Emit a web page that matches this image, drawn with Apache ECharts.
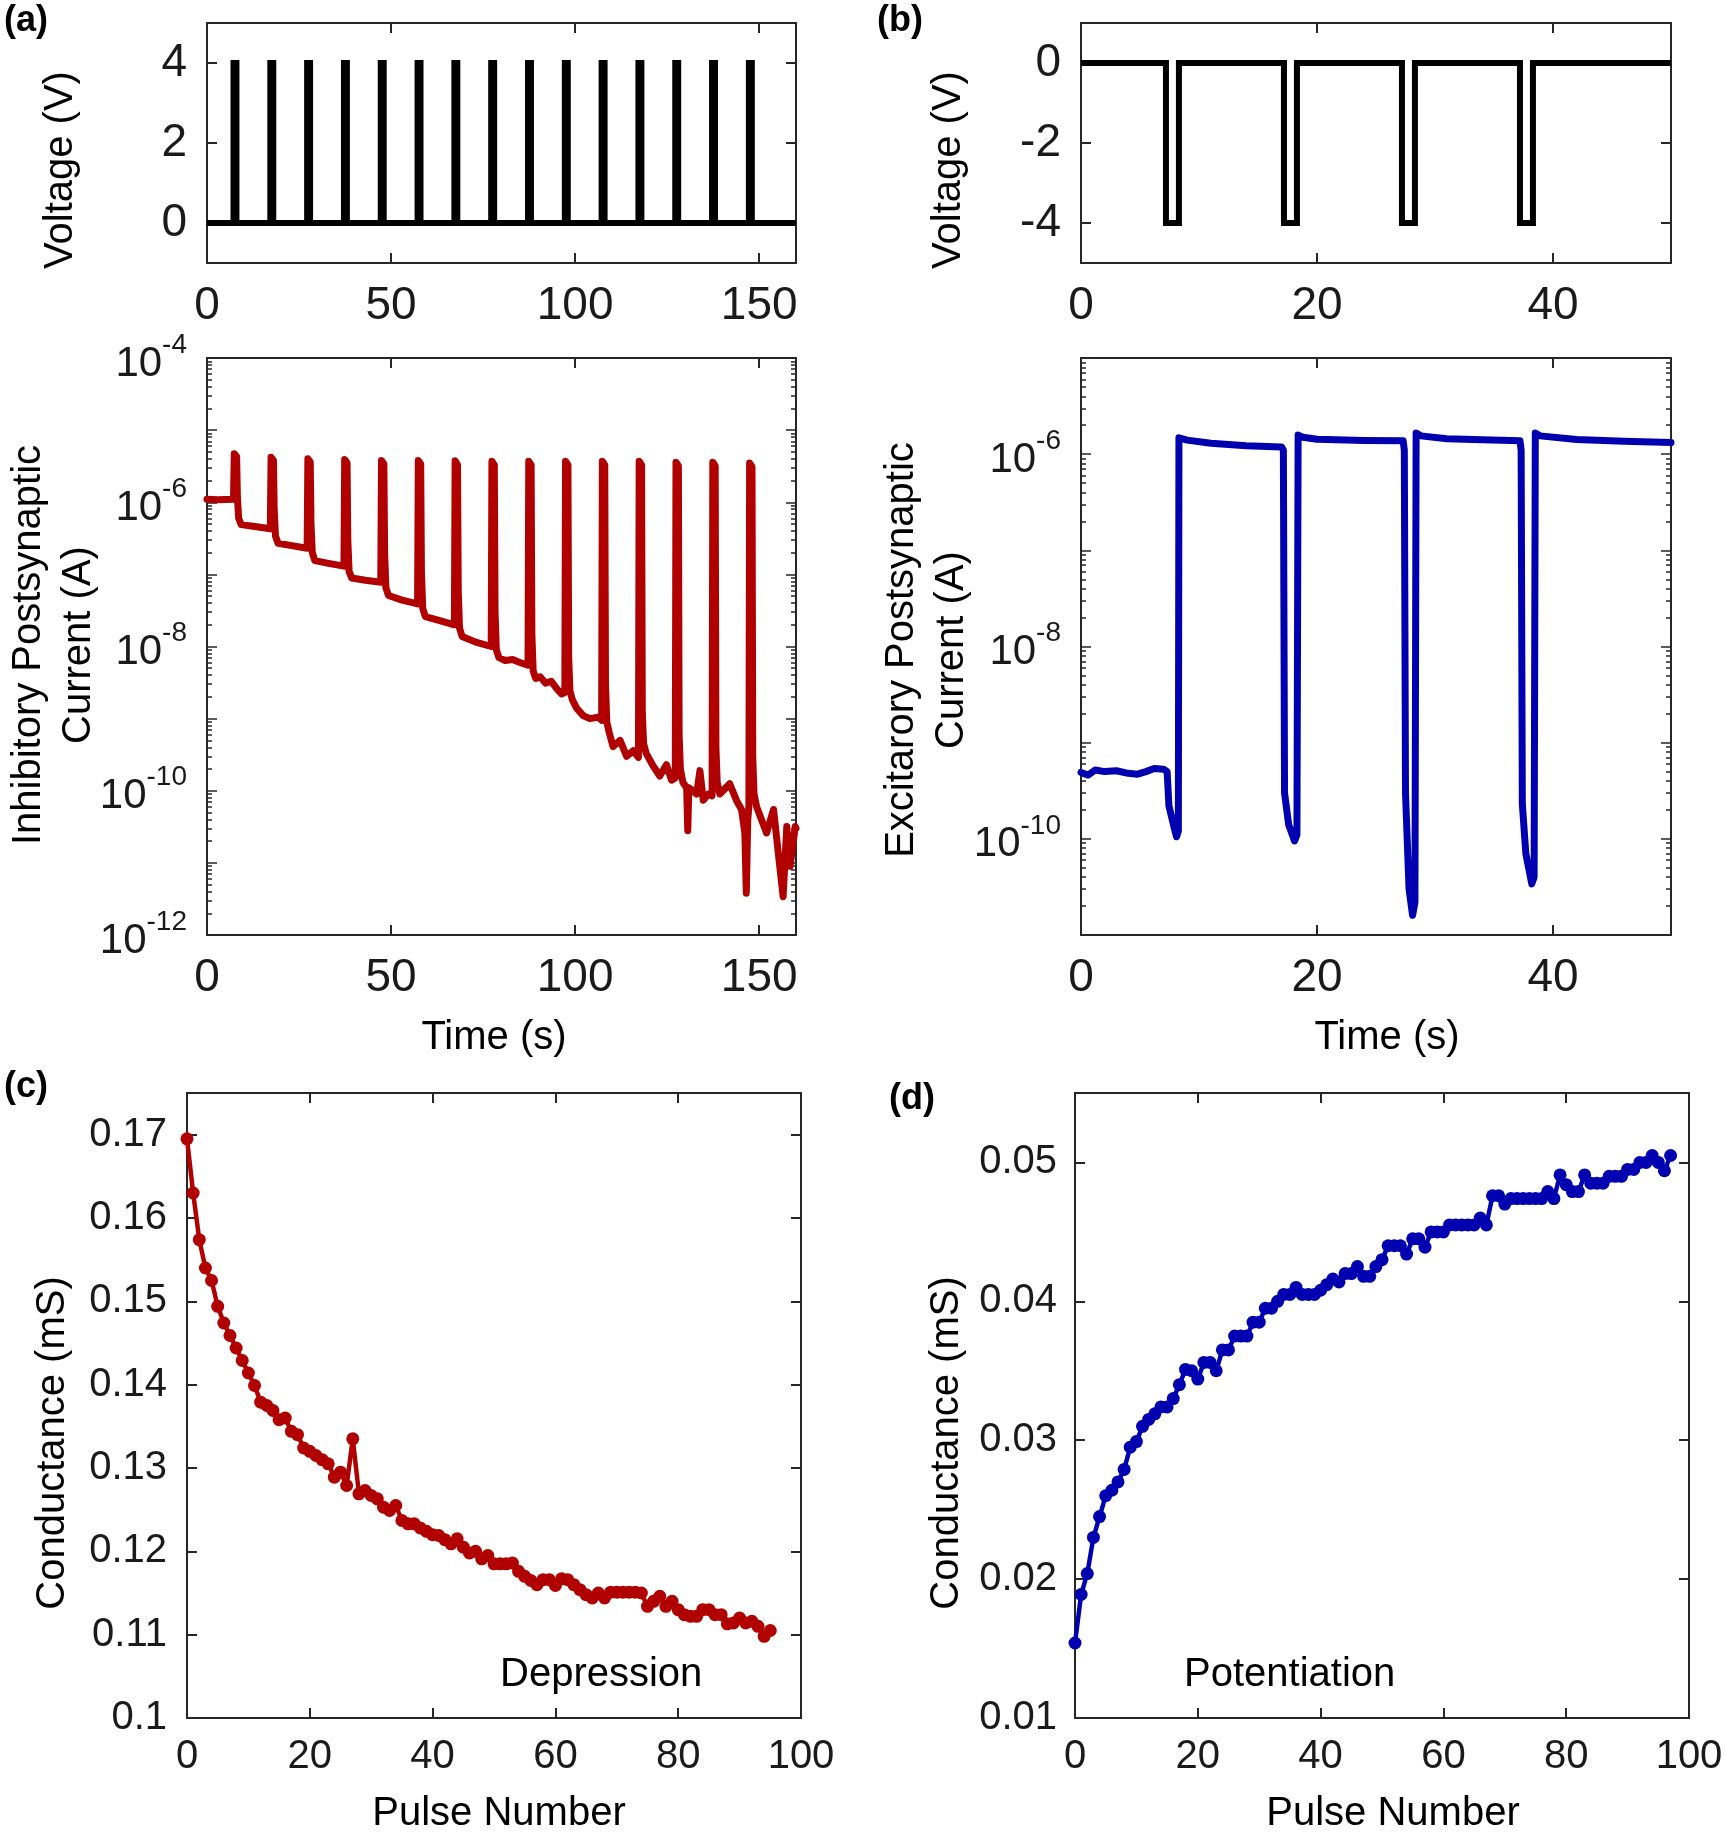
<!DOCTYPE html>
<html>
<head>
<meta charset="utf-8">
<script src="https://cdn.jsdelivr.net/npm/echarts@6.0.0/dist/echarts.min.js"></script>
<style>
  html, body { margin: 0; padding: 0; background: #fff; }
  #chart { width: 1725px; height: 1832px; }
</style>
</head>
<body>
<div id="chart"></div>
<script>
// ---- (a) / (b) voltage pulse trains ----
const posPulseStarts = [7.2, 17.2, 27.2, 37.2, 47.2, 57.2, 67.2, 77.2, 87.2, 97.2, 107.2, 117.2, 127.2, 137.2, 147.2];
const posPulseWidth = 0.8;
const posPulseAmp = 4;
const posTimeEnd = 160;

const negPulseStarts = [7.2, 17.2, 27.2, 37.2];
const negPulseWidth = 1.1;
const negPulseAmp = -4;
const negTimeEnd = 50;

// ---- (a) inhibitory postsynaptic current, [time s, current A] ----
const ipscPoints = [
  [0, 1.1e-6], [3, 1.08e-6], [7.2, 1.1e-6],
  [7.3, 1.1e-6], [7.4, 4.7e-6], [8.05, 4.3e-6], [8.25, 1.2e-6], [8.6, 6.0e-7], [9.3, 4.9e-7], [13, 4.6e-7], [17.2, 4.3e-7],
  [17.3, 4.3e-7], [17.4, 4.2e-6], [18.05, 3.8e-6], [18.25, 8e-7], [18.6, 3.4e-7], [19.3, 2.7e-7], [23, 2.5e-7], [27.2, 2.3e-7],
  [27.3, 2.3e-7], [27.4, 4.0e-6], [28.05, 3.6e-6], [28.25, 5e-7], [28.6, 2.0e-7], [29.3, 1.55e-7], [33, 1.42e-7], [37.2, 1.3e-7],
  [37.3, 1.3e-7], [37.4, 3.9e-6], [38.05, 3.5e-6], [38.25, 3e-7], [38.6, 1.1e-7], [39.3, 8.9e-8], [43, 8.3e-8], [47.2, 7.8e-8],
  [47.3, 7.8e-8], [47.4, 3.8e-6], [48.05, 3.4e-6], [48.25, 2e-7], [48.6, 6.5e-8], [49.3, 5.1e-8], [53, 4.4e-8], [57.2, 3.9e-8],
  [57.3, 3.9e-8], [57.4, 3.8e-6], [58.05, 3.4e-6], [58.25, 1.1e-7], [58.6, 3.4e-8], [59.3, 2.6e-8], [63, 2.3e-8], [67.2, 2.0e-8],
  [67.3, 2.0e-8], [67.4, 3.75e-6], [68.05, 3.3e-6], [68.25, 6e-8], [68.6, 1.8e-8], [69.3, 1.38e-8], [73, 1.15e-8], [77.2, 1.0e-8],
  [77.3, 1.0e-8], [77.4, 3.7e-6], [78.05, 3.3e-6], [78.25, 3e-8], [78.6, 9e-9], [79.3, 7.0e-9], [81, 6.4e-9], [83, 6.6e-9], [85, 6.0e-9], [87.2, 5.5e-9],
  [87.3, 5.5e-9], [87.4, 3.7e-6], [88.05, 3.3e-6], [88.25, 1.5e-8], [88.6, 4.6e-9], [89.3, 3.6e-9], [90.5, 3.8e-9], [92, 3.1e-9], [93.5, 3.3e-9], [95, 2.6e-9], [96.3, 2.2e-9], [97.2, 2.3e-9],
  [97.3, 2.3e-9], [97.4, 3.7e-6], [98.05, 3.3e-6], [98.25, 7e-9], [98.6, 2.4e-9], [99.3, 1.8e-9], [100.4, 1.4e-9], [102.2, 1.1e-9], [104, 1.0e-9], [106.3, 1.05e-9], [107.2, 9.5e-10],
  [107.3, 9.5e-10], [107.4, 3.7e-6], [108.05, 3.3e-6], [108.25, 3e-9], [108.6, 9e-10], [109.3, 6.3e-10], [110.3, 4.1e-10], [112.2, 5e-10], [114, 3e-10], [115.8, 3.6e-10], [117.2, 2.9e-10],
  [117.3, 2.9e-10], [117.4, 3.7e-6], [118.05, 3.3e-6], [118.25, 1.2e-9], [118.6, 4.5e-10], [119.3, 3.3e-10], [121.2, 2.2e-10], [123, 1.6e-10], [124.8, 2.3e-10], [126.2, 1.4e-10], [127.2, 1.5e-10],
  [127.3, 1.5e-10], [127.4, 3.6e-6], [128.05, 3.2e-6], [128.25, 6e-10], [128.6, 2e-10], [129.3, 1.3e-10], [130.3, 1.1e-10], [130.6, 2.8e-11], [130.9, 1.1e-10], [133, 9e-11], [133.9, 1.9e-10], [134.8, 7.4e-11], [136.2, 9e-11], [137.2, 8.5e-11],
  [137.3, 8.5e-11], [137.4, 3.6e-6], [138.05, 3.2e-6], [138.25, 4e-10], [138.6, 1.3e-10], [139.3, 9e-11], [142, 1.25e-10], [143.8, 7.4e-11], [145.2, 5.5e-11], [146.1, 2.6e-11], [146.5, 3.8e-12], [146.9, 4e-11], [147.2, 6e-11],
  [147.3, 6e-11], [147.4, 3.5e-6], [148.05, 3.1e-6], [148.25, 3e-10], [148.6, 9e-11], [149.3, 6e-11], [152, 2.6e-11], [153.9, 5.5e-11], [155.2, 1.35e-11], [156.5, 3.4e-12], [157.5, 3.2e-11], [158.4, 9e-12], [159.8, 3.2e-11], [160, 3e-11]
];

// ---- (b) excitatory postsynaptic current, [time s, current A] ----
const epscPoints = [
  [0, 4.9e-10], [0.6, 4.6e-10], [1.2, 5.2e-10], [2, 5.0e-10], [3, 5.1e-10], [4, 4.8e-10], [4.8, 4.7e-10], [5.5, 5.0e-10], [6.2, 5.4e-10], [7.0, 5.3e-10], [7.3, 5.0e-10],
  [7.45, 2.2e-10], [7.9, 1.3e-10], [8.1, 1.05e-10], [8.25, 1.2e-10],
  [8.3, 1.48e-6], [9, 1.4e-6], [11, 1.3e-6], [14, 1.22e-6], [17.0, 1.19e-6],
  [17.15, 1.1e-6], [17.25, 3.0e-10], [17.6, 1.4e-10], [18.1, 9.5e-11], [18.3, 1.1e-10],
  [18.4, 1.58e-6], [18.8, 1.5e-6], [20, 1.43e-6], [24, 1.39e-6], [27.3, 1.38e-6],
  [27.4, 1.1e-6], [27.5, 3.0e-10], [27.8, 3.0e-11], [28.1, 1.6e-11], [28.3, 2.2e-11],
  [28.4, 1.66e-6], [28.8, 1.55e-6], [31, 1.45e-6], [34, 1.41e-6], [37.2, 1.38e-6],
  [37.3, 1.1e-6], [37.4, 2.3e-10], [37.7, 7e-11], [38.2, 3.4e-11], [38.4, 4e-11],
  [38.5, 1.66e-6], [38.9, 1.55e-6], [42, 1.42e-6], [46, 1.36e-6], [50, 1.32e-6]
];

// ---- (c) depression / (d) potentiation, conductance (mS) per pulse number ----
const depressionG = [
  0.1695, 0.163, 0.1574, 0.154, 0.1525, 0.1494, 0.1474, 0.1459, 0.1444, 0.1429,
  0.1414, 0.1399, 0.1379, 0.1375, 0.1369, 0.1358, 0.136, 0.1344, 0.134, 0.1324,
  0.132, 0.1315, 0.131, 0.1305, 0.1289, 0.1295, 0.1279, 0.1335, 0.1269, 0.1273,
  0.1267, 0.1263, 0.1253, 0.1249, 0.1255, 0.1237, 0.1233, 0.1233, 0.1228, 0.1224,
  0.122, 0.1219, 0.1214, 0.1209, 0.1215, 0.1205, 0.1198, 0.12, 0.1191, 0.1195,
  0.1185, 0.1185, 0.1185, 0.1186, 0.1176, 0.117, 0.1165, 0.116, 0.1166, 0.1166,
  0.1159, 0.1167, 0.1166, 0.116, 0.1154, 0.1148, 0.1144, 0.115, 0.1144, 0.1151,
  0.1151, 0.1151, 0.1151, 0.1151, 0.115, 0.1134, 0.114, 0.1146, 0.1134, 0.114,
  0.113, 0.1124, 0.1122, 0.1122, 0.113, 0.113, 0.1124, 0.1124, 0.1113, 0.1114,
  0.112, 0.1114, 0.1116, 0.111, 0.1098, 0.1105
];
const potentiationG = [
  0.0154, 0.0189, 0.0204, 0.023, 0.0245, 0.026, 0.0264, 0.027, 0.0279, 0.0295,
  0.0299, 0.031, 0.0315, 0.0319, 0.0324, 0.0324, 0.033, 0.034, 0.0351, 0.035,
  0.0344, 0.0356, 0.0356, 0.035, 0.0365, 0.0365, 0.0375, 0.0375, 0.0375, 0.0385,
  0.0385, 0.0395, 0.0395, 0.04, 0.0405, 0.0405, 0.041, 0.0405, 0.0405, 0.0405,
  0.0408, 0.0412, 0.0416, 0.0414, 0.042, 0.042, 0.0425, 0.0418, 0.0418, 0.0425,
  0.043, 0.044, 0.044, 0.044, 0.0434, 0.0445, 0.0445, 0.0439, 0.045, 0.045,
  0.045, 0.0455, 0.0455, 0.0455, 0.0455, 0.0455, 0.046, 0.0455, 0.0476, 0.0476,
  0.047, 0.0474, 0.0474, 0.0474, 0.0474, 0.0474, 0.0474, 0.0479, 0.0474, 0.0491,
  0.0484, 0.0479, 0.0479, 0.0491, 0.0485, 0.0485, 0.0485, 0.049, 0.049, 0.049,
  0.0495, 0.0495, 0.05, 0.05, 0.0505, 0.05, 0.0494, 0.0505
];

// ---- tick values ----
const timeTicksA = [0, 50, 100, 150];
const timeTicksB = [0, 20, 40];
const pulseTicks = [0, 20, 40, 60, 80, 100];
const voltTicksA = [0, 2, 4];
const voltTicksB = [-4, -2, 0];
const condTicksC = [0.1, 0.11, 0.12, 0.13, 0.14, 0.15, 0.16, 0.17];
const condTicksD = [0.01, 0.02, 0.03, 0.04, 0.05];
const decadesA = [1e-12, 1e-11, 1e-10, 1e-9, 1e-8, 1e-7, 1e-6, 1e-5, 1e-4];
const decadesB = [1e-11, 1e-10, 1e-9, 1e-8, 1e-7, 1e-6, 1e-5];

const FONT = 'Liberation Sans, Arial, Helvetica, sans-serif';
const AX = '#262626';
const TXT = '#1a1a1a';
const RED = '#b00000';
const BLUE = '#0000b0';

function pulseWave(starts, width, amp, tEnd) {
  const pts = [[0, 0]];
  starts.forEach(function (s) {
    pts.push([s, 0], [s, amp], [s + width, amp], [s + width, 0]);
  });
  pts.push([tEnd, 0]);
  return pts;
}

function minorTicks(decades) {
  const out = [];
  decades.forEach(function (d, i) {
    if (i === decades.length - 1) return;
    for (let k = 2; k <= 9; k++) out.push(+(d * k).toPrecision(3));
  });
  return out;
}

function logLabel(v) {
  const e = Math.log10(v);
  const r = Math.round(e);
  if (Math.abs(e - r) > 1e-6 || r % 2 !== 0) return '';
  return '{b|10}{s|' + r + '}';
}

const line = { show: true, onZero: false, lineStyle: { color: AX, width: 2 } };
const tickStyle = { color: AX, width: 2 };

function linAxis(grid, pos, min, max, ticks, fontSize, withLabel, margin) {
  return {
    type: 'value', gridIndex: grid, position: pos, min: min, max: max,
    axisLine: line,
    axisTick: { show: true, inside: true, length: 10, customValues: ticks, lineStyle: tickStyle },
    axisLabel: { show: withLabel, customValues: ticks, fontSize: fontSize, fontFamily: FONT, color: TXT, margin: margin },
    splitLine: { show: false }
  };
}

function logAxis(grid, pos, min, max, ticks, len, withLabel, showLine) {
  return {
    type: 'log', logBase: 10, gridIndex: grid, position: pos, min: min, max: max,
    axisLine: showLine ? line : { show: false, onZero: false },
    axisTick: { show: true, inside: true, length: len, customValues: ticks, lineStyle: { color: AX, width: 1.5 } },
    axisLabel: withLabel ? {
      show: true, customValues: ticks, margin: 20, formatter: logLabel,
      rich: {
        b: { fontSize: 42, fontFamily: FONT, color: TXT, verticalAlign: 'bottom', lineHeight: 54 },
        s: { fontSize: 28, fontFamily: FONT, color: TXT, verticalAlign: 'top', lineHeight: 24 }
      }
    } : { show: false },
    splitLine: { show: false }, minorTick: { show: false }
  };
}

const grids = [
  { left: 207, top: 23, width: 589, height: 240 },   // a top
  { left: 207, top: 358, width: 589, height: 577 },  // a bottom
  { left: 1081, top: 23, width: 590, height: 240 },  // b top
  { left: 1081, top: 358, width: 590, height: 577 }, // b bottom
  { left: 187, top: 1093, width: 614, height: 625 }, // c
  { left: 1075, top: 1093, width: 614, height: 625 } // d
].map(function (g) { return Object.assign({ containLabel: false, outerBoundsMode: 'none' }, g); });

const xAxes = [
  linAxis(0, 'bottom', 0, 160, timeTicksA, 46, true, 20),
  linAxis(0, 'top', 0, 160, timeTicksA, 46, false, 20),
  linAxis(1, 'bottom', 0, 160, timeTicksA, 46, true, 20),
  linAxis(1, 'top', 0, 160, timeTicksA, 46, false, 20),
  linAxis(2, 'bottom', 0, 50, timeTicksB, 46, true, 20),
  linAxis(2, 'top', 0, 50, timeTicksB, 46, false, 20),
  linAxis(3, 'bottom', 0, 50, timeTicksB, 46, true, 20),
  linAxis(3, 'top', 0, 50, timeTicksB, 46, false, 20),
  linAxis(4, 'bottom', 0, 100, pulseTicks, 40, true, 19),
  linAxis(4, 'top', 0, 100, pulseTicks, 40, false, 19),
  linAxis(5, 'bottom', 0, 100, pulseTicks, 40, true, 19),
  linAxis(5, 'top', 0, 100, pulseTicks, 40, false, 19)
];

const yAxes = [
  linAxis(0, 'left', -1, 5, voltTicksA, 46, true, 20),                   // 0
  linAxis(0, 'right', -1, 5, voltTicksA, 46, false, 20),                 // 1
  logAxis(1, 'left', 1e-12, 1e-4, decadesA, 10, true, true),             // 2
  logAxis(1, 'right', 1e-12, 1e-4, decadesA, 10, false, true),           // 3
  logAxis(1, 'left', 1e-12, 1e-4, minorTicks(decadesA), 5, false, false),  // 4
  logAxis(1, 'right', 1e-12, 1e-4, minorTicks(decadesA), 5, false, false), // 5
  linAxis(2, 'left', -5, 1, voltTicksB, 46, true, 20),                   // 6
  linAxis(2, 'right', -5, 1, voltTicksB, 46, false, 20),                 // 7
  logAxis(3, 'left', 1e-11, 1e-5, decadesB, 10, true, true),             // 8
  logAxis(3, 'right', 1e-11, 1e-5, decadesB, 10, false, true),           // 9
  logAxis(3, 'left', 1e-11, 1e-5, minorTicks(decadesB), 5, false, false),  // 10
  logAxis(3, 'right', 1e-11, 1e-5, minorTicks(decadesB), 5, false, false), // 11
  linAxis(4, 'left', 0.1, 0.175, condTicksC, 40, true, 20),              // 12
  linAxis(4, 'right', 0.1, 0.175, condTicksC, 40, false, 20),            // 13
  linAxis(5, 'left', 0.01, 0.055, condTicksD, 40, true, 18),             // 14
  linAxis(5, 'right', 0.01, 0.055, condTicksD, 40, false, 18)            // 15
];

function traceSeries(xi, yi, data, color, width, join) {
  return {
    type: 'line', xAxisIndex: xi, yAxisIndex: yi, data: data,
    symbol: 'none', showSymbol: false, silent: true,
    lineStyle: { color: color, width: width, join: join, cap: join === 'round' ? 'round' : 'butt' }
  };
}

function pointSeries(xi, yi, values, color) {
  return {
    type: 'line', xAxisIndex: xi, yAxisIndex: yi,
    data: values.map(function (v, i) { return [i, v]; }),
    symbol: 'circle', symbolSize: 13, showSymbol: true,
    itemStyle: { color: color, borderWidth: 0 },
    lineStyle: { color: color, width: 4.5, join: 'round' }
  };
}

function txt(x, y, text, opt) {
  return {
    type: 'text', x: x, y: y, rotation: opt.rot || 0, silent: true,
    style: Object.assign({
      text: text, fontFamily: FONT, fontSize: 40, fill: '#000',
      align: 'center', verticalAlign: 'middle'
    }, opt.style || {})
  };
}
const vert = Math.PI / 2;

const chart = echarts.init(document.getElementById('chart'), null, { renderer: 'canvas' });
chart.setOption({
  animation: false,
  backgroundColor: '#fff',
  grid: grids,
  xAxis: xAxes,
  yAxis: yAxes,
  series: [
    traceSeries(0, 0, pulseWave(posPulseStarts, posPulseWidth, posPulseAmp, posTimeEnd), '#000', 6, 'miter'),
    traceSeries(2, 2, ipscPoints, RED, 7, 'round'),
    traceSeries(4, 6, pulseWave(negPulseStarts, negPulseWidth, negPulseAmp, negTimeEnd), '#000', 6, 'miter'),
    traceSeries(6, 8, epscPoints, BLUE, 7, 'round'),
    pointSeries(8, 12, depressionG, RED),
    pointSeries(10, 14, potentiationG, BLUE)
  ],
  graphic: [
    txt(26, 21, '(a)', { style: { fontWeight: 'bold', fontSize: 36 } }),
    txt(900, 21, '(b)', { style: { fontWeight: 'bold', fontSize: 36 } }),
    txt(26, 1087, '(c)', { style: { fontWeight: 'bold', fontSize: 36 } }),
    txt(912, 1099, '(d)', { style: { fontWeight: 'bold', fontSize: 36 } }),
    txt(61, 170, 'Voltage (V)', { rot: vert }),
    txt(949, 170, 'Voltage (V)', { rot: vert }),
    txt(54, 645, 'Inhibitory Postsynaptic\nCurrent (A)', { rot: vert, style: { lineHeight: 50 } }),
    txt(927, 650, 'Excitarory Postsynaptic\nCurrent (A)', { rot: vert, style: { lineHeight: 50 } }),
    txt(494, 1038, 'Time (s)', {}),
    txt(1387, 1038, 'Time (s)', {}),
    txt(53, 1443, 'Conductance (mS)', { rot: vert }),
    txt(947, 1443, 'Conductance (mS)', { rot: vert }),
    txt(499, 1814, 'Pulse Number', {}),
    txt(1393, 1814, 'Pulse Number', {}),
    txt(500, 1675, 'Depression', { style: { align: 'left' } }),
    txt(1184, 1675, 'Potentiation', { style: { align: 'left' } })
  ]
});
</script>
</body>
</html>
